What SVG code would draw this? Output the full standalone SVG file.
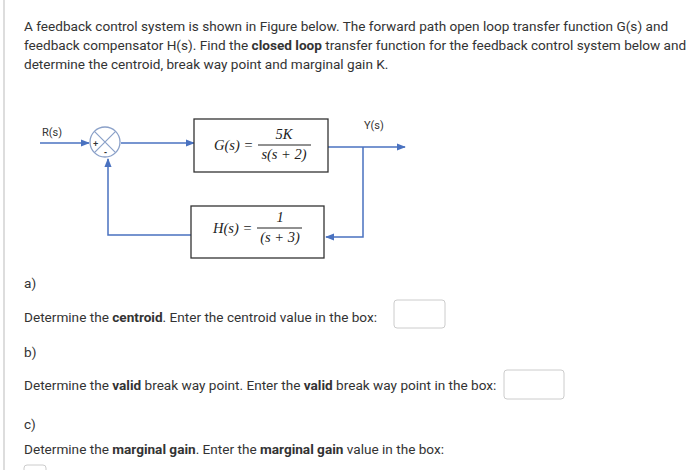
<svg xmlns="http://www.w3.org/2000/svg" width="700" height="470" viewBox="0 0 700 470">
<style>
.t{font-family:Roboto,"Liberation Sans",sans-serif;font-size:13.6px;fill:#333}
.b{font-weight:bold}
.m{font-family:"Liberation Serif",serif;font-style:italic;font-size:14.5px;fill:#222}
.w{stroke:#4a72c0;stroke-width:1.5;fill:none}
.box{fill:#fff;stroke:#333;stroke-width:1.3}
.in{fill:#fff;stroke:#ccc;stroke-width:1;rx:3}
</style>
<defs><marker id="a" viewBox="0 0 10 10" refX="9" refY="5" markerWidth="6" markerHeight="6" orient="auto"><path d="M0,1 L10,5 L0,9z" fill="#4a72c0"/></marker></defs>
<rect width="700" height="470" fill="#fff"/>
<line x1="4" y1="0" x2="4" y2="470" stroke="#ddd" stroke-width="2"/>
<text class="t" x="24" y="31">A feedback control system is shown in Figure below. The forward path open loop transfer function G(s) and</text>
<text class="t" x="24" y="50">feedback compensator H(s). Find the <tspan class="b">closed loop</tspan> transfer function for the feedback control system below and</text>
<text class="t" x="24" y="69">determine the centroid, break way point and marginal gain K.</text>
<g id="connectors">
<path class="w" d="M40,143 H89" marker-end="url(#a)"/>
<path class="w" d="M121,143 H194" marker-end="url(#a)"/>
<path class="w" d="M328,147 H405" marker-end="url(#a)"/>
<path class="w" d="M363,147 V237 H326" marker-end="url(#a)"/>
<path class="w" d="M191,235 H108 V159" marker-end="url(#a)"/>
</g>
<g id="sum">
<circle cx="105" cy="142" r="15" fill="#fff" stroke="#8aa0c8" stroke-width="1.3"/>
<path d="M94.4,131.4 L115.6,152.6 M115.6,131.4 L94.4,152.6" stroke="#8aa0c8" stroke-width="1.2"/>
<text x="93" y="147" font-family="Liberation Sans,sans-serif" font-size="9" font-weight="bold" fill="#333">+</text>
<text x="104" y="155" font-family="Liberation Sans,sans-serif" font-size="9" font-weight="bold" fill="#333">-</text>
</g>
<text class="t" x="42" y="136" style="font-size:11px">R(s)</text>
<text class="t" x="364" y="129" style="font-size:11px">Y(s)</text>
<g id="G">
<rect class="box" x="194" y="119" width="134" height="53"/>
<text class="m" x="214" y="150">G(s) =</text>
<line x1="258" y1="145" x2="311" y2="145" stroke="#222" stroke-width="1"/>
<text class="m" x="284" y="139" text-anchor="middle">5K</text>
<text class="m" x="284" y="159" text-anchor="middle">s(s + 2)</text>
</g>
<g id="H">
<rect class="box" x="191" y="206" width="133" height="52"/>
<text class="m" x="213" y="233">H(s) =</text>
<line x1="257" y1="228" x2="302" y2="228" stroke="#222" stroke-width="1"/>
<text class="m" x="280" y="222" text-anchor="middle">1</text>
<text class="m" x="280" y="242" text-anchor="middle">(s + 3)</text>
</g>
<text class="t" x="24" y="288">a)</text>
<text class="t" x="24" y="322">Determine the <tspan class="b">centroid</tspan>. Enter the centroid value in the box:</text>
<rect class="in" x="394" y="300" width="51" height="28"/>
<text class="t" x="24" y="357">b)</text>
<text class="t" x="24" y="390">Determine the <tspan class="b">valid</tspan> break way point. Enter the <tspan class="b">valid</tspan> break way point in the box:</text>
<rect class="in" x="504" y="370" width="60" height="29"/>
<text class="t" x="24" y="429">c)</text>
<text class="t" x="24" y="454">Determine the <tspan class="b">marginal gain</tspan>. Enter the <tspan class="b">marginal gain</tspan> value in the box:</text>
<rect class="in" x="24" y="465" width="22" height="10"/>
</svg>
